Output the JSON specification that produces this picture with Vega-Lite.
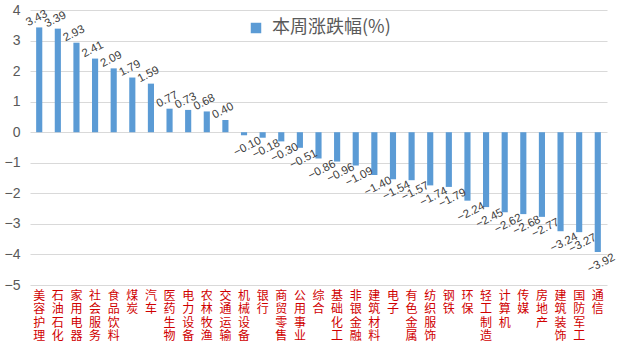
{
  "$schema": "https://vega.github.io/schema/vega-lite/v6.json",
  "autosize": {"type": "none"},
  "width": 577,
  "height": 275,
  "padding": {"left": 30, "top": 10, "right": 15, "bottom": 62},
  "background": "#ffffff",
  "config": {
    "view": {"stroke": null},
    "font": "Noto Sans CJK SC"
  },
  "data": {
    "values": [
      {"industry": "美容护理", "change": 3.43},
      {"industry": "石油石化", "change": 3.39},
      {"industry": "家用电器", "change": 2.93},
      {"industry": "社会服务", "change": 2.41},
      {"industry": "食品饮料", "change": 2.09},
      {"industry": "煤炭", "change": 1.79},
      {"industry": "汽车", "change": 1.59},
      {"industry": "医药生物", "change": 0.77},
      {"industry": "电力设备", "change": 0.73},
      {"industry": "农林牧渔", "change": 0.68},
      {"industry": "交通运输", "change": 0.40},
      {"industry": "机械设备", "change": -0.10},
      {"industry": "银行", "change": -0.18},
      {"industry": "商贸零售", "change": -0.30},
      {"industry": "公用事业", "change": -0.51},
      {"industry": "综合", "change": -0.86},
      {"industry": "基础化工", "change": -0.96},
      {"industry": "非银金融", "change": -1.09},
      {"industry": "建筑材料", "change": -1.40},
      {"industry": "电子", "change": -1.54},
      {"industry": "有色金属", "change": -1.57},
      {"industry": "纺织服饰", "change": -1.74},
      {"industry": "钢铁", "change": -1.79},
      {"industry": "环保", "change": -2.24},
      {"industry": "轻工制造", "change": -2.45},
      {"industry": "计算机", "change": -2.62},
      {"industry": "传媒", "change": -2.68},
      {"industry": "房地产", "change": -2.77},
      {"industry": "建筑装饰", "change": -3.24},
      {"industry": "国防军工", "change": -3.27},
      {"industry": "通信", "change": -3.92}
    ]
  },
  "encoding": {
    "x": {
      "field": "industry",
      "type": "nominal",
      "sort": null,
      "scale": {"paddingInner": 0.67, "paddingOuter": 0.33},
      "axis": {
        "title": null,
        "domain": false,
        "ticks": false,
        "labelAngle": 0,
        "labelBaseline": "top",
        "labelAlign": "center",
        "labelPadding": 5,
        "labelFont": "Noto Sans CJK SC",
        "labelFontSize": 12,
        "labelLineHeight": 13.5,
        "labelColor": "#D00000",
        "labelOverlap": false,
        "labelExpr": "split(datum.label, '')"
      }
    },
    "y": {
      "field": "change",
      "type": "quantitative",
      "scale": {"domain": [-5, 4], "nice": false, "zero": false},
      "axis": {
        "title": null,
        "domain": false,
        "ticks": false,
        "values": [-5, -4, -3, -2, -1, 0, 1, 2, 3, 4],
        "labelOverlap": false,
        "labelPadding": 10,
        "labelFontSize": 14,
        "labelFont": "Liberation Sans",
        "labelColor": "#595959",
        "gridColor": "#D9D9D9",
        "gridWidth": 1
      }
    }
  },
  "layer": [
    {
      "mark": {"type": "bar"},
      "encoding": {
        "color": {
          "datum": "本周涨跌幅(%)",
          "scale": {"range": ["#5B9BD5"]},
          "legend": {
            "title": null,
            "orient": "none",
            "legendX": 217,
            "legendY": 9,
            "symbolType": "square",
            "symbolSize": 110,
            "symbolStrokeWidth": 0,
            "labelFontSize": 18,
            "labelFont": "Noto Sans CJK SC",
            "labelColor": "#595959",
            "labelOffset": 7
          }
        }
      }
    },
    {
      "transform": [{"filter": "datum.change >= 0"}],
      "mark": {"type": "text", "angle": -27, "align": "center", "baseline": "bottom", "dy": -4, "dx": 2, "fontSize": 11.5, "font": "Liberation Sans", "color": "#404040"},
      "encoding": {"text": {"field": "change", "type": "quantitative", "format": ".2f"}}
    },
    {
      "transform": [{"filter": "datum.change < 0"}],
      "mark": {"type": "text", "angle": -27, "align": "center", "baseline": "top", "dy": 6, "dx": -2, "fontSize": 11.5, "font": "Liberation Sans", "color": "#404040"},
      "encoding": {"text": {"field": "change", "type": "quantitative", "format": ".2f"}}
    }
  ]
}
